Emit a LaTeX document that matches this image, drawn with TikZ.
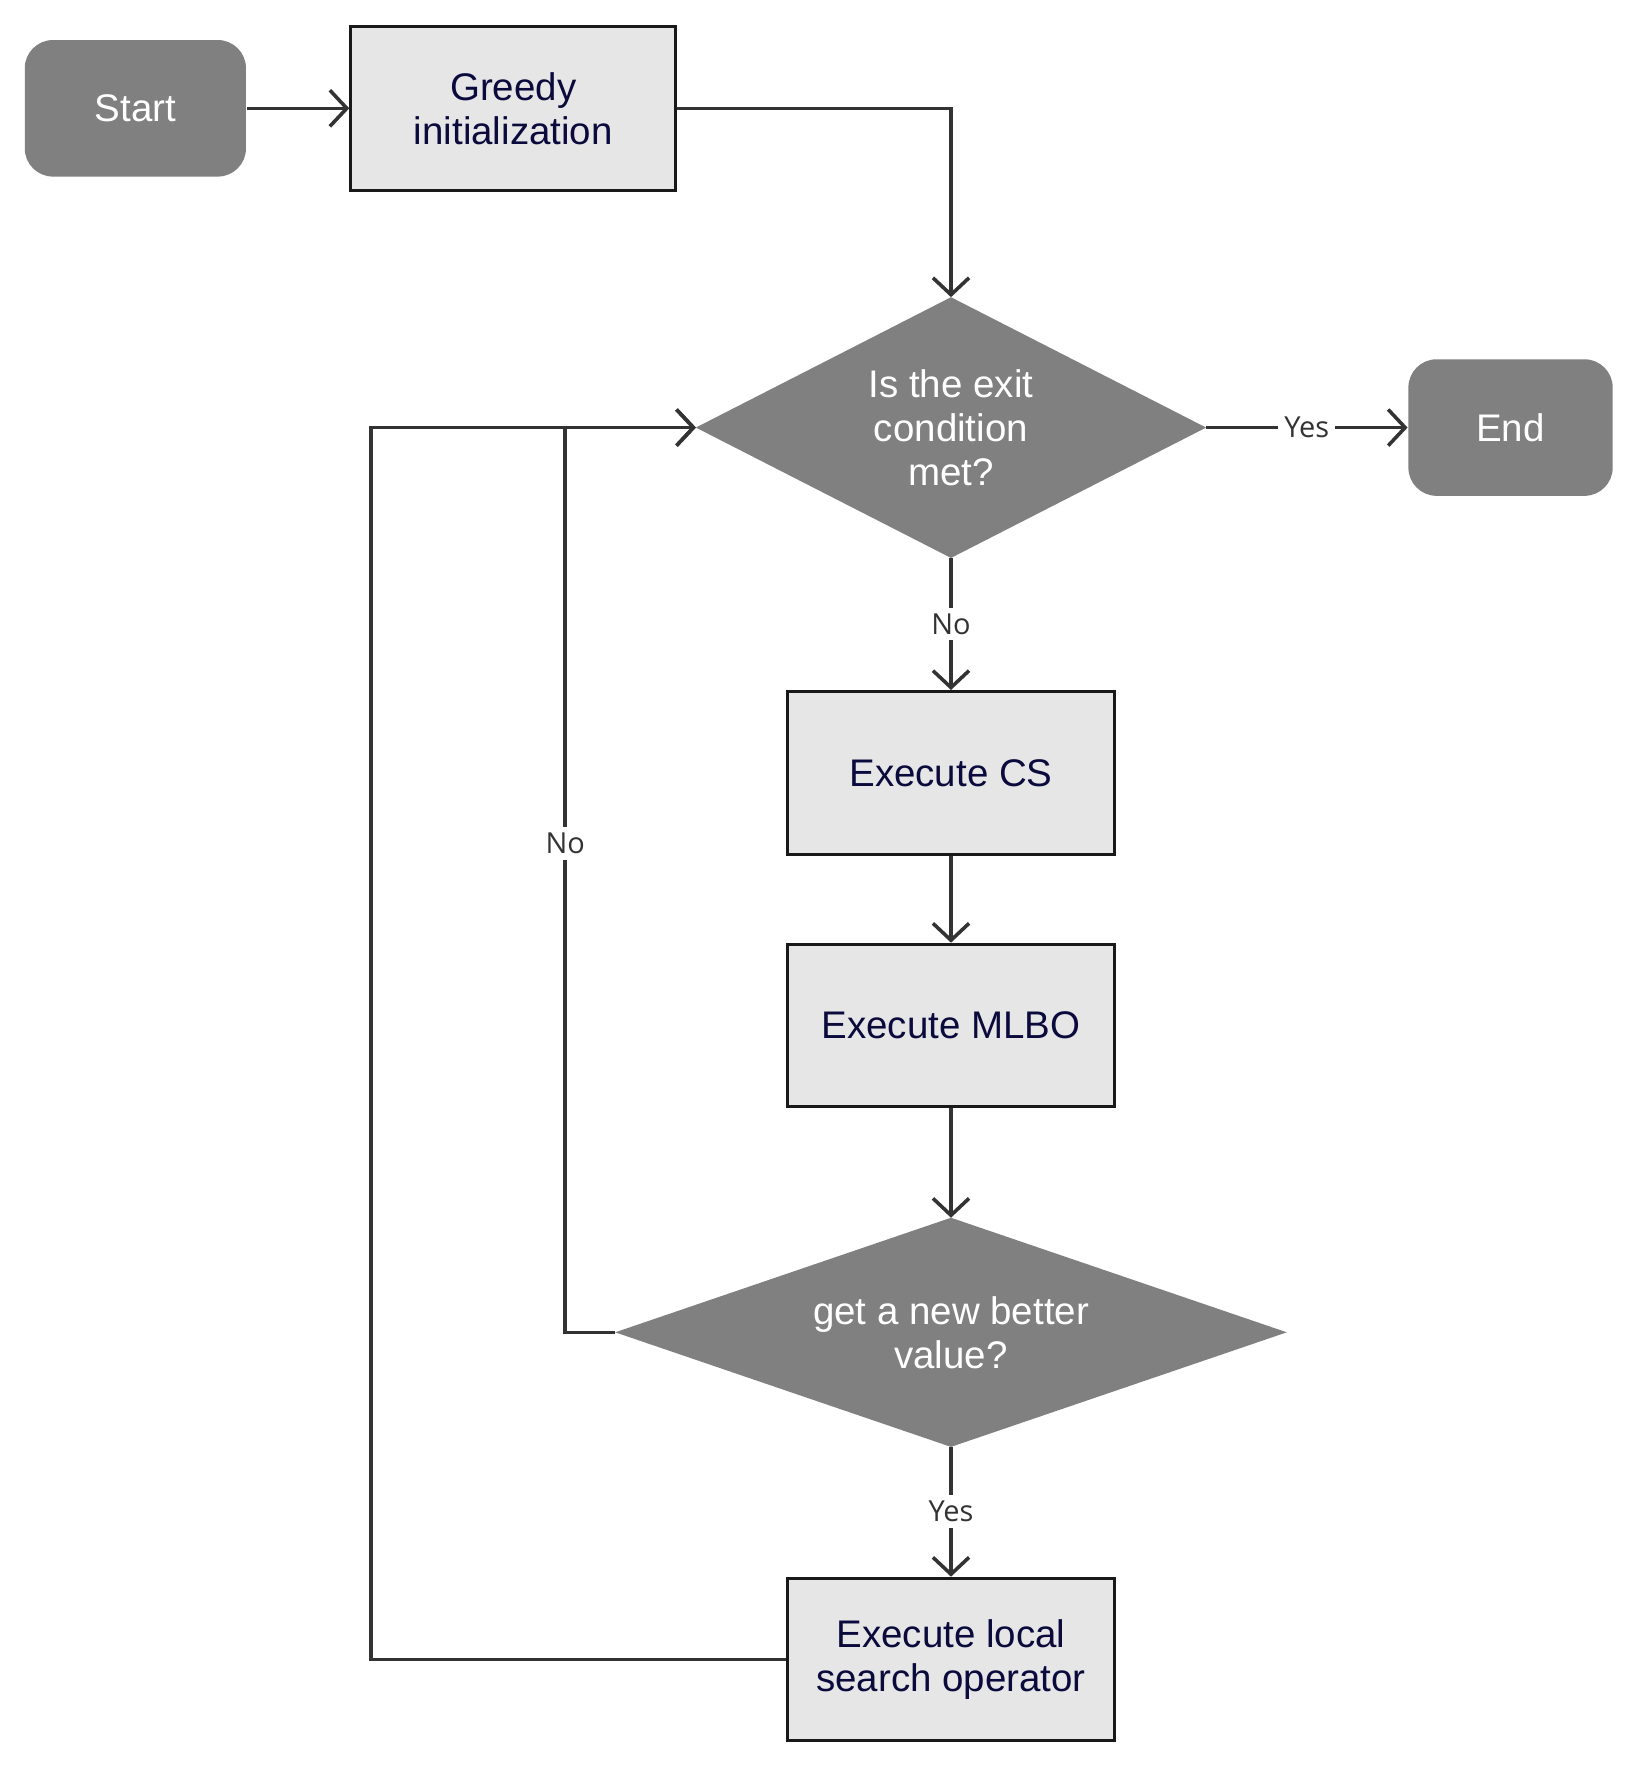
\documentclass[tikz,border=0pt]{standalone}
\usepackage{fontspec}
\setmainfont{Liberation Sans}
\newfontfamily\etikettfont{Open Sans}
\usetikzlibrary{shapes.geometric,arrows.meta}
\definecolor{strek}{HTML}{333333}
\definecolor{gra}{HTML}{808080}
\definecolor{lysgra}{HTML}{E6E6E6}
\definecolor{marine}{HTML}{0A0A3C}
\begin{document}
\begin{tikzpicture}[x=0.01cm, y=-0.01cm,
		terminal/.style={rectangle, rounded corners=0.25cm, fill=gra, text=white, minimum width=1.96cm, minimum height=1.21cm, font=\fontsize{9.7}{11.1}\selectfont, align=center},
		prosess/.style={rectangle, draw=black!90, line width=0.75pt, fill=lysgra, text=marine, minimum width=2.9cm, minimum height=1.44cm, font=\fontsize{9.7}{11.1}\selectfont, align=center},
		beslutning/.style={diamond, fill=gra, text=white, inner sep=0pt, outer sep=0pt, font=\fontsize{9.7}{11.1}\selectfont, align=center},
		pil/.style={draw=strek, line width=0.9pt, -{Straight Barb[length=0.15cm, width=0.32cm]}},
		etikett/.style={fill=white, inner sep=1.5pt, text=strek, font=\etikettfont\fontsize{7.3}{8.5}\selectfont}]
		% Ramme
		\useasboundingbox (0,0) rectangle (1451,1569);

		% Start og initialisering
		\node[terminal] (start) at (120,96) {Start};
		\node[prosess, minimum width=2.88cm, minimum height=1.45cm] (greedy) at (455,96) {Greedy\\initialization};

		% Beslutning: avslutte?
		\node[beslutning, aspect=1.96, minimum width=4.52cm, minimum height=2.31cm] (exit) at (843,379) {Is the exit\\condition\\met?};
		\node[terminal, minimum width=1.81cm] (end) at (1339,379) {End};

		% Hovedsteg
		\node[prosess] (cs) at (843,685) {Execute CS};
		\node[prosess] (mlbo) at (843,909) {Execute MLBO};

		% Beslutning: bedre verdi?
		\node[beslutning, aspect=2.93, minimum width=5.95cm, minimum height=2.03cm] (bedre) at (843,1181) {get a new better\\value?};
		\node[prosess] (lokal) at (843,1471) {Execute local\\search operator};

		% Hjelpepunkter for tilbakekobling
		\coordinate (midt) at (501,379);
		\coordinate (venstre) at (329,379);

		% Piler
		\draw[pil] (start) -- (greedy);
		\draw[pil] (greedy.east) -| (exit.north);
		\draw[pil] (exit.east) -- node[etikett] {Yes} (end.west);
		\draw[pil] (exit.south) -- node[etikett] {No} (cs.north);
		\draw[pil] (cs) -- (mlbo);
		\draw[pil] (mlbo.south) -- (bedre.north);
		\draw[pil] (bedre.south) -- node[etikett] {Yes} (lokal.north);
		\draw[pil] (bedre.west) -| node[etikett, pos=0.77] {No} (midt) -- (exit.west);
		\draw[pil] (lokal.west) -| (venstre) -- (exit.west);
	\end{tikzpicture}
\end{document}
